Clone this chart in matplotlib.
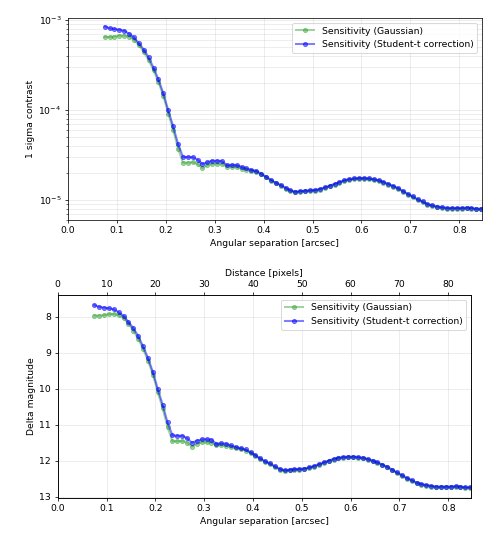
import numpy as np
import matplotlib
matplotlib.use("Agg")
import matplotlib.pyplot as plt

# ---- data -------------------------------------------------------------
pixel_scale = 0.01  # arcsec per pixel
sep_px = np.arange(7.5, 85.0, 1.0)  # separations sampled every pixel
sep_arcsec = sep_px * pixel_scale

dmag_student = [
    7.68, 7.73, 7.75, 7.77, 7.80, 7.88, 7.98, 8.15, 8.32, 8.54,
    8.83, 9.15, 9.54, 10.01, 10.45, 10.94, 11.30, 11.31, 11.31, 11.38,
    11.50, 11.45, 11.41, 11.41, 11.42, 11.53, 11.52, 11.53, 11.58, 11.62,
    11.66, 11.69, 11.77, 11.85, 11.94, 12.02, 12.08, 12.16, 12.23, 12.27,
    12.25, 12.24, 12.23, 12.22, 12.19, 12.15, 12.10, 12.05, 12.00, 11.95,
    11.92, 11.90, 11.89, 11.89, 11.90, 11.92, 11.95, 12.00, 12.05, 12.11,
    12.17, 12.25, 12.33, 12.40, 12.48, 12.54, 12.61, 12.65, 12.68, 12.70,
    12.72, 12.72, 12.72, 12.72, 12.71, 12.72, 12.74, 12.74,
]
dmag_gauss = [
    7.97, 7.97, 7.96, 7.93, 7.93, 7.96, 8.05, 8.20, 8.39, 8.62,
    8.90, 9.23, 9.61, 10.10, 10.55, 11.07, 11.46, 11.46, 11.45, 11.50,
    11.61, 11.53, 11.49, 11.49, 11.50, 11.57, 11.57, 11.59, 11.63, 11.66,
    11.69, 11.72, 11.79, 11.87, 11.96, 12.04, 12.10, 12.18, 12.25, 12.29,
    12.27, 12.26, 12.25, 12.24, 12.21, 12.17, 12.12, 12.07, 12.02, 11.97,
    11.94, 11.92, 11.91, 11.91, 11.92, 11.94, 11.97, 12.02, 12.07, 12.13,
    12.19, 12.27, 12.35, 12.42, 12.50, 12.56, 12.63, 12.67, 12.70, 12.72,
    12.74, 12.74, 12.74, 12.74, 12.73, 12.74, 12.76, 12.76,
]
dmag_student = np.array(dmag_student)
dmag_gauss = np.array(dmag_gauss)
contrast_student = 10 ** (-0.4 * dmag_student)
contrast_gauss = 10 ** (-0.4 * dmag_gauss)

labels = ["Sensitivity (Gaussian)", "Sensitivity (Student-t correction)"]

# ---- figure -----------------------------------------------------------
W, H = 483, 537
DPI = 66.7
fig = plt.figure(figsize=(W / DPI, H / DPI), dpi=DPI)

def frac(left, top, right, bottom):
    return [left / W, 1 - bottom / H, (right - left) / W, (bottom - top) / H]

green = "#2ca02c"
blue = "blue"
xmax = 0.846
LW = 2.2
MS = 9

def draw(ax, yg, ys):
    ax.plot(sep_arcsec, yg, ".-", color=green, alpha=0.45, lw=LW, ms=MS,
            label=labels[0])
    ax.plot(sep_arcsec, ys, ".-", color=blue, alpha=0.5, lw=LW, ms=MS,
            label=labels[1])

# top panel: contrast
ax1 = fig.add_axes(frac(68, 18.3, 481.7, 220))
draw(ax1, contrast_gauss, contrast_student)
ax1.set_yscale("log")
ax1.set_ylim(6.0e-6, 1.045e-3)
ax1.set_xlim(0, xmax)
ax1.grid(True, which="both", color="#b0b0b0", alpha=0.3, linewidth=0.8)
ax1.set_xlabel("Angular separation [arcsec]")
ax1.set_ylabel("1 sigma contrast")
ax1.legend(loc="upper right")

# bottom panel: delta magnitude
ax2 = fig.add_axes(frac(57.7, 295, 470.7, 497.7))
draw(ax2, dmag_gauss, dmag_student)
ax2.set_xlim(0, xmax)
ax2.set_ylim(13.03, 7.40)
ax2.grid(True, color="#b0b0b0", alpha=0.3, linewidth=0.8)
ax2.set_xlabel("Angular separation [arcsec]")
ax2.set_ylabel("Delta magnitude")
ax2.legend(loc="upper right")

ax3 = ax2.twiny()
ax3.set_xlim(0, xmax / pixel_scale)
ax3.set_xlabel("Distance [pixels]")

fig.savefig("out.png", dpi=DPI)
